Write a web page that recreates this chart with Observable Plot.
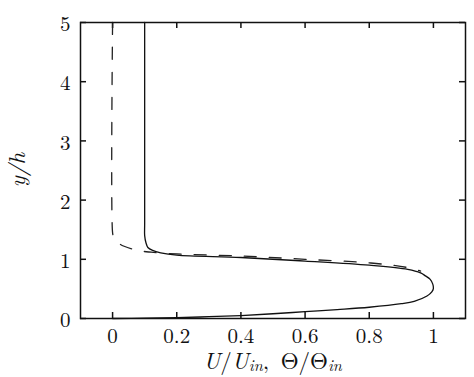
<!DOCTYPE html>
<html><head><meta charset="utf-8">
<script src="https://cdn.jsdelivr.net/npm/d3@7"></script>
<script src="https://cdn.jsdelivr.net/npm/@observablehq/plot@0.6"></script>
<style>body{margin:0;background:#fff}</style>
</head><body><div id="chart"></div>
<script>
// Velocity profile U/U_in (solid)
const uX = [0, 0.1, 0.2, 0.3, 0.4, 0.5, 0.6, 0.7, 0.8, 0.9, 0.94, 0.98, 0.995, 1.0, 0.998, 0.99, 0.975, 0.96, 0.92, 0.8, 0.6, 0.4, 0.2, 0.15, 0.125, 0.11, 0.104, 0.1, 0.1, 0.1];
const uY = [0, 0.005, 0.015, 0.03, 0.05, 0.08, 0.115, 0.15, 0.19, 0.25, 0.29, 0.38, 0.45, 0.51, 0.58, 0.66, 0.72, 0.77, 0.83, 0.90, 0.97, 1.03, 1.07, 1.11, 1.15, 1.20, 1.28, 1.40, 1.6, 5];
// Temperature profile Theta/Theta_in (dashed)
const tX = [0, 0, 0.003, 0.012, 0.036, 0.078, 0.12, 0.2, 0.4, 0.6, 0.8, 0.92, 0.96];
const tY = [5, 1.45, 1.38, 1.30, 1.22, 1.15, 1.12, 1.09, 1.055, 1.0, 0.94, 0.86, 0.80];

const xTicks = [0, 0.2, 0.4, 0.6, 0.8, 1];
const xTickLabels = ["0", "0.2", "0.4", "0.6", "0.8", "1"];
const yTicks = [0, 1, 2, 3, 4, 5];
const yTickLabels = ["0", "1", "2", "3", "4", "5"];

const U = uX.map((x, i) => ({x, y: uY[i]}));
const T = tX.map((x, i) => ({x, y: tY[i]}));
const xLab = new Map(xTicks.map((t, i) => [t, xTickLabels[i]]));
const yLab = new Map(yTicks.map((t, i) => [t, yTickLabels[i]]));

const FONT = "Latin Modern Roman, Liberation Serif, serif";
const INK = "#111";
const W = 474, H = 377, MT = 22, MB = 59, ML = 80, MR = 9;
const XD = [-0.1, 1.1], YD = [0, 5];
const TL = 6;                       // inward tick length, px
const FH = H - MT - MB, FW = W - ML - MR;
const tickDY = TL * (YD[1] - YD[0]) / FH;   // tick length in y units
const tickDX = TL * (XD[1] - XD[0]) / FW;   // tick length in x units

const chart = Plot.plot({
  width: W, height: H,
  marginTop: MT, marginBottom: MB, marginLeft: ML, marginRight: MR,
  style: {fontFamily: FONT, fontSize: "21px", color: INK, background: "#fff"},
  x: {domain: XD, axis: null},
  y: {domain: YD, axis: null},
  marks: [
    // tick labels
    Plot.text(xTicks, {x: d => d, frameAnchor: "bottom", lineAnchor: "top", dy: 10, text: d => xLab.get(d), fontFamily: FONT, fontSize: 21, fill: INK}),
    Plot.text(yTicks, {y: d => d, frameAnchor: "left", textAnchor: "end", dx: -10, dy: 2, text: d => yLab.get(d), fontFamily: FONT, fontSize: 21, fill: INK}),
    // inward ticks on all four sides
    Plot.ruleX(xTicks, {x: d => d, y1: YD[0], y2: YD[0] + tickDY, stroke: INK, strokeWidth: 1.5}),
    Plot.ruleX(xTicks, {x: d => d, y1: YD[1], y2: YD[1] - tickDY, stroke: INK, strokeWidth: 1.5}),
    Plot.ruleY(yTicks, {y: d => d, x1: XD[0], x2: XD[0] + tickDX, stroke: INK, strokeWidth: 1.5}),
    Plot.ruleY(yTicks, {y: d => d, x1: XD[1], x2: XD[1] - tickDX, stroke: INK, strokeWidth: 1.5}),
    Plot.line(T, {x: "x", y: "y", curve: "catmull-rom", stroke: "#222", strokeWidth: 1.3, strokeDasharray: "12,13"}),
    Plot.line(U, {x: "x", y: "y", curve: "catmull-rom", stroke: INK, strokeWidth: 1.3}),
    Plot.frame({stroke: INK, strokeWidth: 1.5})
  ]
});
document.getElementById("chart").appendChild(chart);

const svg = d3.select(chart);
const xs = chart.scale("x"), ys = chart.scale("y");
const xl = svg.append("text")
  .attr("x", xs.apply(0.5)).attr("y", 369)
  .attr("text-anchor", "middle")
  .attr("font-family", FONT).attr("font-size", 23).attr("fill", INK);
xl.append("tspan").attr("font-style", "italic").text("U");
xl.append("tspan").text("/");
xl.append("tspan").attr("font-style", "italic").text("U");
xl.append("tspan").attr("font-style", "italic").attr("font-size", 16).attr("dy", 2).text("in");
xl.append("tspan").attr("dy", -2).text(",\u2002Θ/Θ");
xl.append("tspan").attr("font-style", "italic").attr("font-size", 16).attr("dy", 2).text("in");

svg.append("text")
  .attr("transform", `translate(25,${ys.apply(2.5)}) rotate(-90)`)
  .attr("text-anchor", "middle")
  .attr("font-family", FONT).attr("font-size", 23).attr("font-style", "italic").attr("fill", INK)
  .text("y/h");
</script>
</body></html>
